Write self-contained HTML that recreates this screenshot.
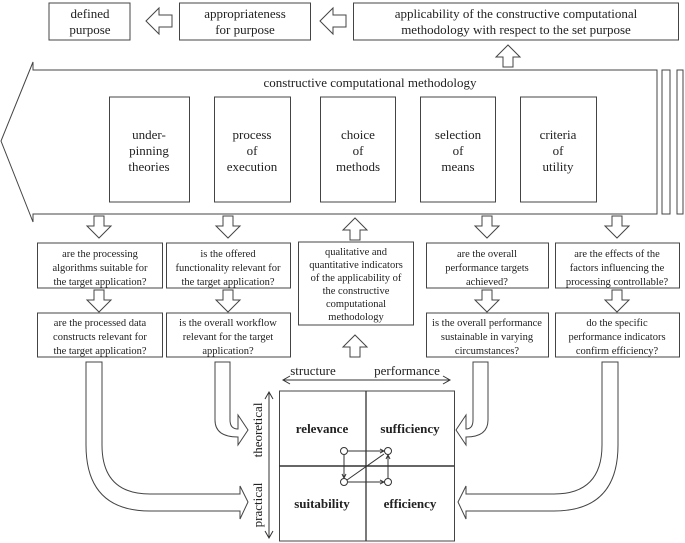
<!DOCTYPE html>
<html><head><meta charset="utf-8"><style>
body{margin:0;background:#fff;}
svg{display:block;}
text{font-family:"Liberation Serif",serif;fill:#222;}
</style></head><body>
<svg width="685" height="543" viewBox="0 0 685 543" xmlns="http://www.w3.org/2000/svg">
<defs>
<path id="dn" d="M-5,0 L5,0 L5,10 L12,10 L0,22 L-12,10 L-5,10 Z" fill="#fff" stroke="#444" stroke-width="1"/>
<path id="up" d="M-5,22 L5,22 L5,12 L12,12 L0,0 L-12,12 L-5,12 Z" fill="#fff" stroke="#444" stroke-width="1"/>
<path id="lf" d="M0,0 L13,-13 L13,-6 L26,-6 L26,6 L13,6 L13,13 Z" fill="#fff" stroke="#444" stroke-width="1"/>
</defs>
<g fill="#fff" stroke="#444" stroke-width="1">
<rect x="49" y="3" width="81" height="37"/>
<rect x="179.5" y="3" width="131" height="37"/>
<rect x="353.5" y="3" width="325" height="37"/>
<path d="M33,70 L657,70 L657,214 L33,214 L33,222 L1,141 L33,62 Z"/>
<rect x="662" y="70" width="8" height="144"/>
<rect x="677" y="70" width="6" height="144"/>
<rect x="109.5" y="97" width="80" height="105"/>
<rect x="214.5" y="97" width="76" height="105"/>
<rect x="320.5" y="97" width="75" height="105"/>
<rect x="420.5" y="97" width="75" height="105"/>
<rect x="520.5" y="97" width="76" height="105"/>
<rect x="37.5" y="243" width="125" height="45"/>
<rect x="166.5" y="243" width="124" height="45"/>
<rect x="298.5" y="242" width="115" height="83"/>
<rect x="426.5" y="243" width="122" height="45"/>
<rect x="555.5" y="243" width="124" height="45"/>
<rect x="37.5" y="313" width="125" height="44"/>
<rect x="166.5" y="313" width="124" height="44"/>
<rect x="426.5" y="313" width="122" height="44"/>
<rect x="555.5" y="313" width="124" height="44"/>
<path d="M86,362 L102,362 L102,445 Q102,494 150,494 L240,494 L240,486 L248,502 L240,519 L240,511 L150,511 Q86,511 86,445 Z"/>
<path d="M215,362 L230,362 L230,420 Q230,429 238,429 L238,415 L248,430 L238,445 L238,437 Q215,437 215,420 Z"/>
<path d="M488,362 L473,362 L473,420 Q473,429 466,429 L466,415 L456,430 L466,445 L466,437 Q488,437 488,420 Z"/>
<path d="M618,362 L602,362 L602,445 Q602,494 554,494 L466,494 L466,486 L458,502 L466,519 L466,511 L554,511 Q618,511 618,445 Z"/>
<rect x="279.5" y="391" width="175" height="150"/>
</g>
<use href="#lf" x="146" y="21"/>
<use href="#lf" x="320" y="21"/>
<use href="#up" x="508" y="45"/>
<use href="#dn" x="99" y="216"/><use href="#dn" x="228" y="216"/><use href="#dn" x="487" y="216"/><use href="#dn" x="617" y="216"/>
<use href="#dn" x="99" y="290"/><use href="#dn" x="228" y="290"/><use href="#dn" x="487" y="290"/><use href="#dn" x="617" y="290"/>
<use href="#up" x="355" y="218"/>
<use href="#up" x="355" y="335"/>
<g stroke="#333" fill="none" stroke-width="1">
<line x1="366" y1="391" x2="366" y2="541" stroke-width="1.3"/>
<line x1="279" y1="466" x2="454" y2="466" stroke-width="1.5"/>
<line x1="283" y1="380" x2="450" y2="380"/>
<path d="M290,376 L283,380 L290,384 M443,376 L450,380 L443,384"/>
<line x1="269" y1="392" x2="269" y2="538"/>
<path d="M265,399 L269,392 L273,399 M265,531 L269,538 L273,531"/>
<circle cx="344" cy="451" r="3.5" fill="#fff"/><circle cx="388" cy="451" r="3.5" fill="#fff"/>
<circle cx="344" cy="482" r="3.5" fill="#fff"/><circle cx="388" cy="482" r="3.5" fill="#fff"/>
<line x1="348" y1="451" x2="383" y2="451"/><path d="M380,449 L384,451 L380,453"/>
<line x1="348" y1="482" x2="383" y2="482"/><path d="M380,480 L384,482 L380,484"/>
<line x1="344" y1="455" x2="344" y2="477"/><path d="M342,474 L344,478 L346,474"/>
<line x1="388" y1="478" x2="388" y2="456"/><path d="M386,459 L388,455 L390,459"/>
<line x1="347" y1="480" x2="384" y2="454"/>
</g>
<g font-size="13" text-anchor="middle">
<text x="90" y="18">defined</text><text x="90" y="34">purpose</text>
<text x="245" y="18">appropriateness</text><text x="245" y="34">for purpose</text>
<text x="516" y="18">applicability of the constructive computational</text>
<text x="516" y="34">methodology with respect to the set purpose</text>
<text x="370" y="87">constructive computational methodology</text>
<text x="149" y="139">under-</text><text x="149" y="155">pinning</text><text x="149" y="171">theories</text>
<text x="252" y="139">process</text><text x="252" y="155">of</text><text x="252" y="171">execution</text>
<text x="358" y="139">choice</text><text x="358" y="155">of</text><text x="358" y="171">methods</text>
<text x="458" y="139">selection</text><text x="458" y="155">of</text><text x="458" y="171">means</text>
<text x="558" y="139">criteria</text><text x="558" y="155">of</text><text x="558" y="171">utility</text>
<text x="313" y="375">structure</text><text x="407" y="375">performance</text>
</g>
<g font-size="10.5" text-anchor="middle">
<text x="100" y="257">are the processing</text><text x="100" y="271">algorithms suitable for</text><text x="100" y="285">the target application?</text>
<text x="228" y="257">is the offered</text><text x="228" y="271">functionality relevant for</text><text x="228" y="285">the target application?</text>
<text x="356" y="255">qualitative and</text><text x="356" y="268">quantitative indicators</text><text x="356" y="281">of the applicability of</text><text x="356" y="294">the constructive</text><text x="356" y="307">computational</text><text x="356" y="320">methodology</text>
<text x="487" y="257">are the overall</text><text x="487" y="271">performance targets</text><text x="487" y="285">achieved?</text>
<text x="617" y="257">are the effects of the</text><text x="617" y="271">factors influencing the</text><text x="617" y="285">processing controllable?</text>
<text x="100" y="326">are the processed data</text><text x="100" y="340">constructs relevant for</text><text x="100" y="354">the target application?</text>
<text x="228" y="326">is the overall workflow</text><text x="228" y="340">relevant for the target</text><text x="228" y="354">application?</text>
<text x="487" y="326">is the overall performance</text><text x="487" y="340">sustainable in varying</text><text x="487" y="354">circumstances?</text>
<text x="617" y="326">do the specific</text><text x="617" y="340">performance indicators</text><text x="617" y="354">confirm efficiency?</text>
</g>
<g font-size="13" font-weight="bold" text-anchor="middle">
<text x="322" y="433">relevance</text><text x="410" y="433">sufficiency</text>
<text x="322" y="508">suitability</text><text x="410" y="508">efficiency</text>
</g>
<g font-size="13" text-anchor="middle">
<text transform="translate(262,430) rotate(-90)">theoretical</text>
<text transform="translate(262,505) rotate(-90)">practical</text>
</g>
</svg>
</body></html>
